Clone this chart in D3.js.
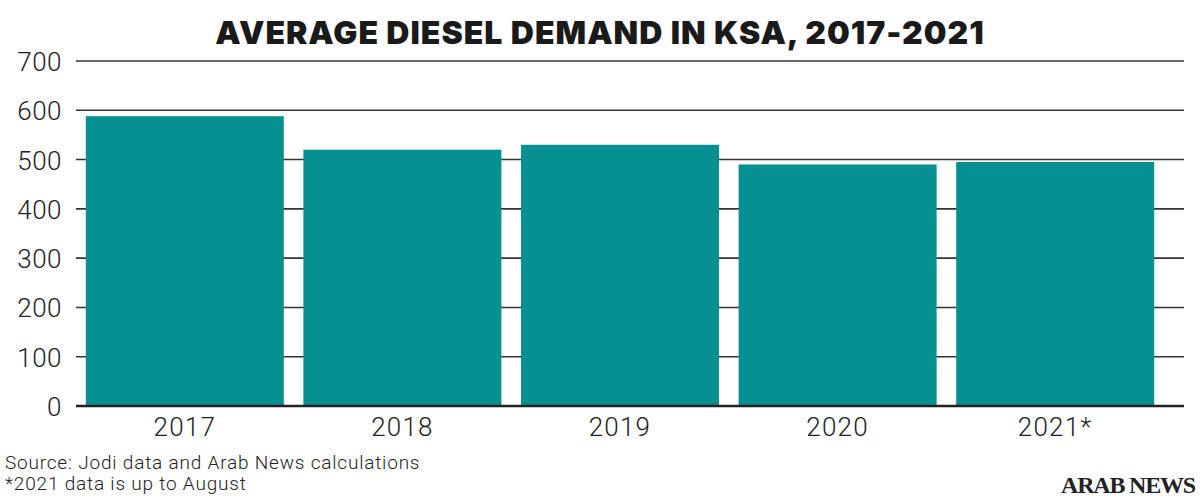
<!DOCTYPE html>
<html>
<head>
<meta charset="utf-8">
<script src="https://cdn.jsdelivr.net/npm/d3@7"></script>
<style>
  html, body { margin:0; padding:0; background:#fff; }
  svg { display:block; }
</style>
</head>
<body>
<svg id="chart" width="1200" height="503"></svg>
<script>
const years  = ["2017", "2018", "2019", "2020", "2021*"];
const demand = [588, 520, 530, 490, 495];
const yTicks = [0, 100, 200, 300, 400, 500, 600, 700];
const title  = "AVERAGE DIESEL DEMAND IN KSA, 2017-2021";
const notes  = ["Source: Jodi data and Arab News calculations", "*2021 data is up to August"];

const W = 1200, H = 503;
const L = 76, R = 1184, T = 61, B = 406;
const svg = d3.select("#chart");

const x = d3.scaleBand().domain(years).range([L, 1164]).paddingInner(0.09).paddingOuter(0.045);
const y = d3.scaleLinear().domain([0, 700]).range([B, T]);

const FONT = "Roboto, sans-serif";

// title
svg.append("text")
  .attr("x", 600).attr("y", 44)
  .attr("text-anchor", "middle")
  .attr("font-family", "Inter, 'Liberation Sans', sans-serif")
  .attr("font-weight", 900).attr("font-size", 32)
  .attr("letter-spacing", "1")
  .attr("fill", "#1a1a1a")
  .text(title);

// gridlines + y labels
const gy = svg.append("g");
gy.selectAll("line").data(yTicks.filter(d => d > 0)).enter().append("line")
  .attr("x1", L).attr("x2", R)
  .attr("y1", d => y(d)).attr("y2", d => y(d))
  .attr("stroke", "#333").attr("stroke-width", 1.6);
gy.selectAll("text").data(yTicks).enter().append("text")
  .attr("x", 62).attr("y", d => y(d) + 10)
  .attr("text-anchor", "end")
  .attr("font-family", FONT).attr("font-weight", 300)
  .attr("font-size", 26).attr("letter-spacing", "0.5").attr("fill", "#222")
  .text(d => d);

// bars
svg.append("g").selectAll("rect").data(demand).enter().append("rect")
  .attr("x", (d, i) => x(years[i]))
  .attr("width", x.bandwidth())
  .attr("y", d => y(d))
  .attr("height", d => y(0) - y(d))
  .attr("fill", "#079092");

// baseline
svg.append("line")
  .attr("x1", L).attr("x2", R).attr("y1", y(0)).attr("y2", y(0))
  .attr("stroke", "#222").attr("stroke-width", 2.5);

// x labels
svg.append("g").selectAll("text").data(years).enter().append("text")
  .attr("x", d => x(d) + x.bandwidth() / 2).attr("y", 436)
  .attr("text-anchor", "middle")
  .attr("font-family", FONT).attr("font-weight", 300)
  .attr("font-size", 26).attr("letter-spacing", "1.2").attr("fill", "#222")
  .text(d => d);

// notes
svg.append("g").selectAll("text").data(notes).enter().append("text")
  .attr("x", 5).attr("y", (d, i) => 469 + i * 21)
  .attr("font-family", FONT).attr("font-weight", 300)
  .attr("font-size", 19).attr("letter-spacing", "0.8").attr("fill", "#222")
  .text(d => d);

// logo
svg.append("text")
  .attr("x", 1195).attr("y", 493)
  .attr("text-anchor", "end")
  .attr("font-family", "'Liberation Serif', serif").attr("font-weight", 700)
  .attr("font-size", 24).attr("letter-spacing", "-1.2")
  .attr("fill", "#222")
  .text("ARAB NEWS");
</script>
</body>
</html>
